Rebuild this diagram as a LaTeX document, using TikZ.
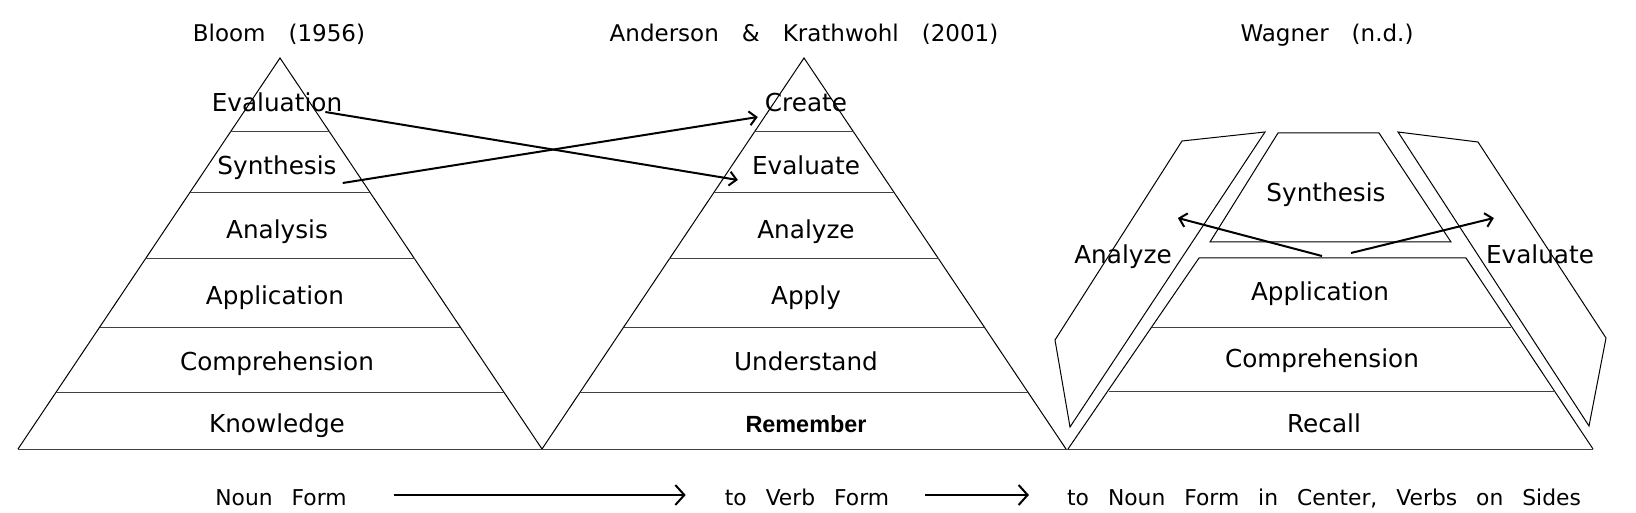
\documentclass[tikz,border=0pt]{standalone}
\usepackage{fontspec}
\setmainfont{DejaVu Sans}
\newfontfamily\remfont{Liberation Sans}
\usetikzlibrary{arrows.meta}

\begin{document}
\begin{tikzpicture}[x=1pt, y=-1pt, >={Straight Barb[length=7pt,width=14pt]},
        lbl/.style={anchor=base, inner sep=0pt, font=\fontsize{24.7}{30}\selectfont},
        heading/.style={anchor=base, inner sep=0pt, font=\fontsize{23}{28}\selectfont,
            execute at begin node={\spaceskip=23pt\relax}},
        formtext/.style={anchor=base, inner sep=0pt, font=\fontsize{21.8}{26}\selectfont,
            execute at begin node={\spaceskip=19pt\relax}},
        side/.style={line width=1pt},
        tier/.style={line width=1pt, black!75},
        arr/.style={->, line width=2pt}]
        \useasboundingbox (0,0) rectangle (1636,513);

        \foreach \cx in {280,804} {
            \draw [side] (\cx-262,449) -- (\cx,58) -- (\cx+262,449);
            \foreach \y in {132,193,259,327,392}
                \draw [tier] ({\cx-0.67*(\y-58)},\y) -- ({\cx+0.67*(\y-58)},\y);
        }
        \draw [tier] (18,449) -- (1593,449);

        \draw [side] (1182,141) -- (1265,132) -- (1070,427) -- (1055,340) -- cycle;
        \draw [side] (1398,132) -- (1478,142) -- (1606,338) -- (1589,426) -- cycle;
        \draw [side] (1210,242) -- (1278,133) -- (1379,133) -- (1451,242) -- cycle;
        \draw [side] (1068,449) -- (1199,258) -- (1466,258) -- (1593,449);
        \draw [tier] (1152,327) -- (1511,327);
        \draw [tier] (1109,391) -- (1555,391);

        \node [heading] (bloom) at (279,42) {Bloom (1956)};
        \node [heading] (andkr) at (804,42) {Anderson \& Krathwohl (2001)};
        \node [heading] (wagner) at (1327,42) {Wagner (n.d.)};

        \node [lbl] (bEva) at (277,112) {Evaluation};
        \node [lbl] (bSyn) at (277,175) {Synthesis};
        \node [lbl] (bAna) at (277,239) {Analysis};
        \node [lbl] (bApp) at (275,304) {Application};
        \node [lbl] (bCom) at (277,370) {Comprehension};
        \node [lbl] (bKno) at (277,432) {Knowledge};

        \node [lbl] (aCre) at (806,112) {Create};
        \node [lbl] (aEva) at (806,175) {Evaluate};
        \node [lbl] (aAna) at (806,239) {Analyze};
        \node [lbl] (aApp) at (806,304) {Apply};
        \node [lbl] (aUnd) at (806,370) {Understand};
        \node [lbl] (aRem) at (806,432) {\remfont\fontsize{23.4}{28}\selectfont\bfseries Remember};

        \node [lbl] (wSyn) at (1326,202) {Synthesis};
        \node [lbl] (wApp) at (1320,300) {Application};
        \node [lbl] (wCom) at (1322,367) {Comprehension};
        \node [lbl] (wRec) at (1324,432) {Recall};
        \node [lbl] (wAna) at (1123,264) {Analyze};
        \node [lbl] (wEva) at (1540,264) {Evaluate};

        \node [formtext] (fNoun) at (281,505) {Noun Form};
        \node [formtext] (fVerb) at (807,505) {to Verb Form};
        \node [formtext] (fSides) at (1324,505) {to Noun Form in Center, Verbs on Sides};

        \draw [arr] ([xshift=-17pt]bEva.base east) -- ([xshift=-14pt, yshift=-5pt]aEva.base west);
        \draw [arr] ([xshift=6pt, yshift=-8pt]bSyn.base east) -- ([xshift=-7pt, yshift=-5pt]aCre.base west);
        \draw [arr] ([xshift=2pt, yshift=44pt]wApp.base) -- ([xshift=6pt, yshift=46pt]wAna.base east);
        \draw [arr] ([xshift=31pt, yshift=47pt]wApp.base) -- ([xshift=8pt, yshift=46pt]wEva.base west);

        \draw [arr, -{Straight Barb[length=9pt,width=20pt]}] ([xshift=47pt, yshift=10pt]fNoun.base east) -- ([xshift=-39pt, yshift=10pt]fVerb.base west);
        \draw [arr, -{Straight Barb[length=9pt,width=20pt]}] ([xshift=36pt, yshift=10pt]fVerb.base east) -- ([xshift=-38pt, yshift=10pt]fSides.base west);
\end{tikzpicture}
\end{document}
